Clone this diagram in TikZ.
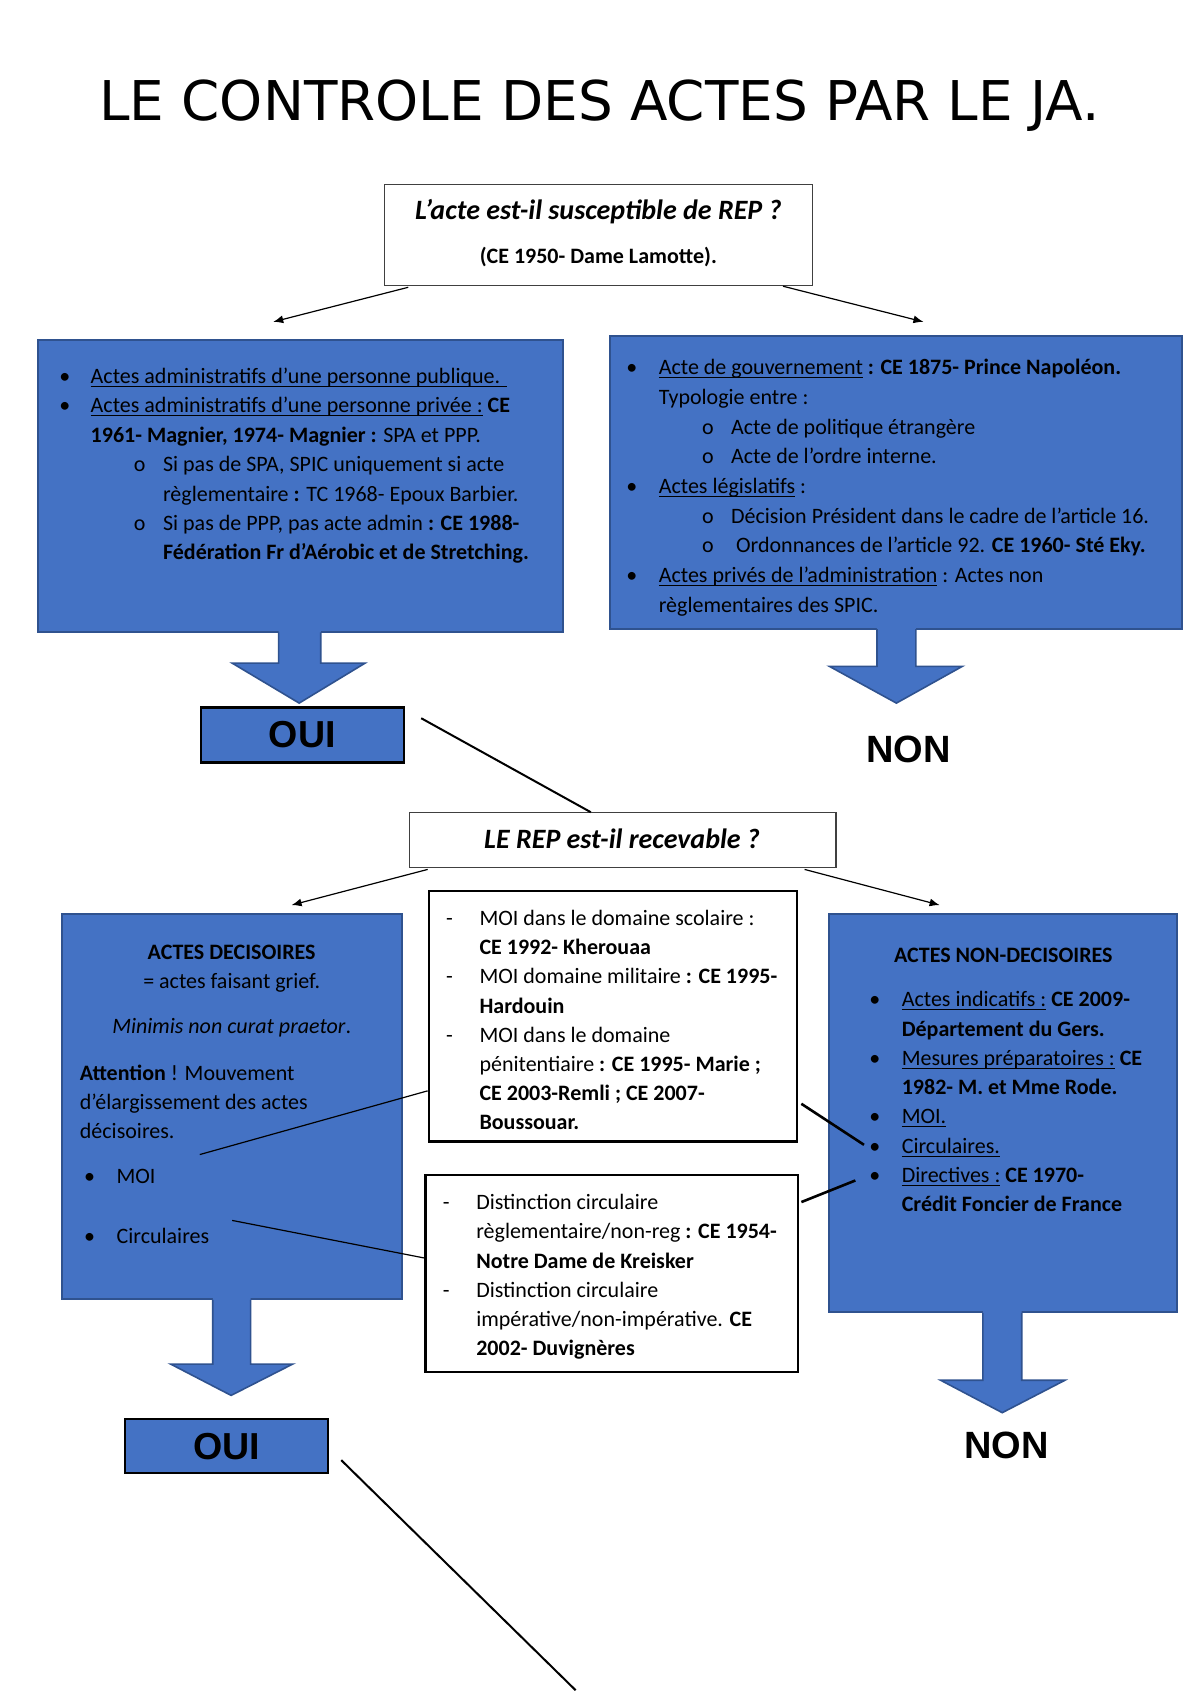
\documentclass[tikz,border=0pt]{standalone}
\usepackage{fontspec}
\setmainfont{Carlito}
\newfontfamily\titlefont{DejaVu Sans}
\newfontfamily\ouifont{Liberation Sans}
\usetikzlibrary{arrows.meta,calc}
\definecolor{ofblue}{HTML}{4472C4}
\definecolor{ofedge}{HTML}{2F528F}
\newdimen\pxu \pxu=0.54pt
\newcommand\Row[4]{\hbox{\hskip#1\pxu\rlap{#2}\hskip\dimexpr#3\pxu-#1\pxu\relax#4}}
\newcommand\CRow[1]{\hbox to\hsize{\hss#1\hss}}
\newcommand\ulx[1]{\setbox0\hbox{#1}\rlap{\rule[-1.7pt]{\wd0}{0.5pt}}\box0\relax}
\newcommand\vgap[1]{\vskip#1\pxu}
\begin{document}
\begin{tikzpicture}[x=0.54pt,y=-0.54pt,
  bluebox/.style={draw=ofedge, fill=ofblue, line width=1pt, inner sep=0pt, outer sep=0pt},
  whitebox/.style={draw=black, fill=white, line width=1.1pt, inner sep=0pt, outer sep=0pt},
  qbox/.style={draw=black!75, fill=white, line width=0.6pt, inner sep=0pt, outer sep=0pt},
  ouibox/.style={draw=black, fill=ofblue, line width=1.1pt, inner sep=0pt, outer sep=0pt, font=\ouifont\bfseries\fontsize{18.8}{20}\selectfont},
  nontxt/.style={font=\ouifont\bfseries\fontsize{19}{20}\selectfont, inner sep=0pt},
  txt/.style={inner sep=0pt, outer sep=0pt, anchor=base west, font=\fontsize{11}{14.8}\selectfont},
  thinline/.style={line width=0.6pt, draw=black},
  thickline/.style={line width=1.3pt, draw=black},
  midline/.style={line width=1pt, draw=black},
  arr/.style={line width=0.6pt, draw=black, -{Latex[length=5pt,width=4pt]}},
  blockfill/.style={fill=ofblue},
  blockedge/.style={draw=ofedge, line width=0.8pt, line join=miter}
]
\fill[white] (0,0) rectangle (1111.1,1572.2);
\useasboundingbox (0,0) rectangle (1111.1,1572.2);

% title
\node[font=\titlefont\fontsize{27.4}{30}\selectfont, inner sep=0pt] (title) at (555,98) {LE CONTROLE DES ACTES PAR LE JA.};

% question 1
\node[qbox, minimum width=213.84pt, minimum height=50.22pt] (q1) at (554,217.5) {};
\node[font=\bfseries\itshape\fontsize{14}{16}\selectfont, anchor=base, inner sep=0pt] (q1a) at (554,203) {L’acte est-il susceptible de REP ?};
\node[font=\bfseries\fontsize{11}{13}\selectfont, anchor=base, inner sep=0pt] (q1b) at (554,244) {(CE 1950- Dame Lamotte).};

\coordinate (q1lend) at (253,298);
\coordinate (q1rend) at (855,298);
\draw[arr] ($(q1.south west)+(22,2)$) -- (q1lend);
\draw[arr] ($(q1.south east)+(-27,1)$) -- (q1rend);

% box A
\node[bluebox, minimum width=262.44pt, minimum height=145.8pt] (a) at (278,450) {};
\node[txt] (ta) at (55,355) {\parbox[t]{300pt}{\fontsize{11}{14.7}\selectfont
\Row{0}{•}{29}{\ulx{Actes administratifs d’une personne publique. }}
\Row{0}{•}{29}{\ulx{Actes administratifs d’une personne privée :} \textbf{CE}}
\Row{29}{}{29}{\textbf{1961- Magnier, 1974- Magnier :} SPA et PPP.}
\Row{69}{o}{96}{Si pas de SPA, SPIC uniquement si acte}
\Row{69}{}{96}{règlementaire \textbf{:} TC 1968- Epoux Barbier.}
\Row{69}{o}{96}{Si pas de PPP, pas acte admin \textbf{: CE 1988-}}
\Row{69}{}{96}{\textbf{Fédération Fr d’Aérobic et de Stretching.}}
}};

% box B
\node[bluebox, minimum width=285.66pt, minimum height=146.34pt] (b) at (829.5,446.5) {};
\node[txt] (tb) at (580,347) {\parbox[t]{320pt}{\fontsize{11}{14.85}\selectfont
\Row{0}{•}{30}{\ulx{Acte de gouvernement} \textbf{: CE 1875- Prince Napoléon.}}
\Row{30}{}{30}{Typologie entre :}
\Row{70}{o}{97}{Acte de politique étrangère}
\Row{70}{o}{97}{Acte de l’ordre interne.}
\Row{0}{•}{30}{\ulx{Actes législatifs} :}
\Row{70}{o}{97}{Décision Président dans le cadre de l’article 16.}
\Row{70}{o}{97}{\ Ordonnances de l’article 92. \textbf{CE 1960- Sté Eky.}}
\Row{0}{•}{30}{\ulx{Actes privés de l’administration} : Actes non}
\Row{30}{}{30}{règlementaires des SPIC.}
}};

% block arrows A and B
\fill[blockfill] (258,583) -- (258,614) -- (215,614) -- (277,651) -- (338,614) -- (297,614) -- (297,583) -- cycle;
\draw[blockedge] (258,585.5) -- (258,614) -- (215,614) -- (277,651) -- (338,614) -- (297,614) -- (297,585.5);
\fill[blockfill] (812,580) -- (812,617) -- (768,617) -- (830,651) -- (891,617) -- (848,617) -- (848,580) -- cycle;
\draw[blockedge] (812,582.5) -- (812,617) -- (768,617) -- (830,651) -- (891,617) -- (848,617) -- (848,582.5);

% OUI / NON 1
\node[ouibox, minimum width=101.52pt, minimum height=27.54pt] (oui1) at (280,680.5) {OUI};
\node[nontxt] (non1) at (841,694) {NON};

% question 2
\node[qbox, minimum width=213.3pt, minimum height=27.54pt] (q2) at (576.5,777.5) {};
\node[font=\bfseries\itshape\fontsize{14}{16}\selectfont, anchor=base, inner sep=0pt] (q2a) at (576,786) {LE REP est-il recevable ?};
\draw[midline] ($(oui1.north east)+(16,10)$) -- ($(q2.north west)+(168,0)$);

\coordinate (q2lend) at (270,838);
\coordinate (q2rend) at (870,838);
\draw[arr] ($(q2.south west)+(17,2)$) -- (q2lend);
\draw[arr] ($(q2.south east)+(-29,2)$) -- (q2rend);

% box C
\node[bluebox, minimum width=170.1pt, minimum height=192.78pt] (c) at (214.5,1024.5) {};
\node[txt] (tc) at (57,888) {\parbox[t]{315\pxu}{\fontsize{11}{14.6}\selectfont
\CRow{\textbf{ACTES DECISOIRES}}
\CRow{= actes faisant grief.}
\vgap{15}
\CRow{\textit{Minimis non curat praetor}.}
\vgap{16}
\Row{17}{}{17}{\textbf{Attention} ! Mouvement}
\Row{17}{}{17}{d’élargissement des actes}
\Row{17}{}{17}{décisoires.}
\vgap{15}
\Row{21}{•}{51}{MOI}
\vgap{28}
\Row{21}{•}{51}{Circulaires}
}};

% box D
\node[whitebox, minimum width=184.14pt, minimum height=125.28pt] (d) at (567.5,941) {};
\node[txt] (td) at (413,857) {\parbox[t]{200pt}{\fontsize{11}{14.6}\selectfont
\Row{0}{-}{31}{MOI dans le domaine scolaire :}
\Row{31}{}{31}{\textbf{CE 1992- Kherouaa}}
\Row{0}{-}{31}{MOI domaine militaire \textbf{: CE 1995-}}
\Row{31}{}{31}{\textbf{Hardouin}}
\Row{0}{-}{31}{MOI dans le domaine}
\Row{31}{}{31}{pénitentiaire \textbf{: CE 1995- Marie ;}}
\Row{31}{}{31}{\textbf{CE 2003-Remli ; CE 2007-}}
\Row{31}{}{31}{\textbf{Boussouar.}}
}};

% box E
\node[whitebox, minimum width=186.3pt, minimum height=98.28pt] (e) at (566.5,1179) {};
\node[txt] (te) at (410,1120) {\parbox[t]{200pt}{\fontsize{11}{14.6}\selectfont
\Row{0}{-}{31}{Distinction circulaire}
\Row{31}{}{31}{règlementaire/non-reg \textbf{: CE 1954-}}
\Row{31}{}{31}{\textbf{Notre Dame de Kreisker}}
\Row{0}{-}{31}{Distinction circulaire}
\Row{31}{}{31}{impérative/non-impérative. \textbf{CE}}
\Row{31}{}{31}{\textbf{2002- Duvignères}}
}};

% box F
\node[bluebox, minimum width=173.88pt, minimum height=199.26pt] (f) at (929,1030.5) {};
\node[txt] (tf) at (768,891) {\parbox[t]{322\pxu}{\fontsize{11}{14.65}\selectfont
\CRow{\textbf{ACTES NON-DECISOIRES}}
\vgap{14}
\Row{37}{•}{67}{\ulx{Actes indicatifs :} \textbf{CE 2009-}}
\Row{67}{}{67}{\textbf{Département du Gers.}}
\Row{37}{•}{67}{\ulx{Mesures préparatoires :} \textbf{CE}}
\Row{67}{}{67}{\textbf{1982- M. et Mme Rode.}}
\Row{37}{•}{67}{\ulx{MOI.}}
\Row{37}{•}{67}{\ulx{Circulaires.}}
\Row{37}{•}{67}{\ulx{Directives :} \textbf{CE 1970-}}
\Row{67}{}{67}{\textbf{Crédit Foncier de France}}
}};

% connectors between boxes C, D, E, F
\draw[thinline] ($(c.center)+(-29.5,44.5)$) -- ($(d.west)+(-1,69)$);
\draw[thinline] ($(c.center)+(0.5,105.5)$) -- ($(e.west)+(0,-14)$);
\draw[thickline] ($(d.east)+(4,81)$) -- ($(f.center)+(-129,29.5)$);
\draw[thickline] ($(e.east)+(3,-66)$) -- ($(f.center)+(-137,62.5)$);

% block arrows C and F
\fill[blockfill] (197,1201) -- (197,1263) -- (158,1263) -- (214,1292) -- (271,1263) -- (232,1263) -- (232,1201) -- cycle;
\draw[blockedge] (197,1203.5) -- (197,1263) -- (158,1263) -- (214,1292) -- (271,1263) -- (232,1263) -- (232,1203.5);
\fill[blockfill] (910,1213) -- (910,1278) -- (871,1278) -- (928,1308) -- (986,1278) -- (946,1278) -- (946,1213) -- cycle;
\draw[blockedge] (910,1215.5) -- (910,1278) -- (871,1278) -- (928,1308) -- (986,1278) -- (946,1278) -- (946,1215.5);

% OUI / NON 2
\node[ouibox, minimum width=101.52pt, minimum height=27pt] (oui2) at (210,1339) {OUI};
\node[nontxt] (non2) at (932,1338) {NON};
\coordinate (ouiend) at (533,1565);
\draw[midline] ($(oui2.east)+(12,13)$) -- (ouiend);
\end{tikzpicture}
\end{document}
